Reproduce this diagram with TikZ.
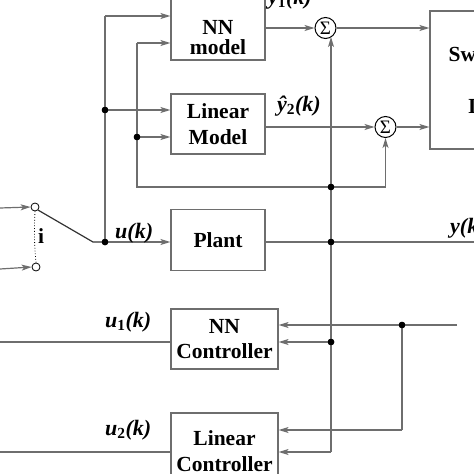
\documentclass[tikz,border=0pt]{standalone}
\usepackage{fontspec}
\setmainfont{Liberation Serif}
\usetikzlibrary{arrows.meta,calc}
\definecolor{lg}{RGB}{110,110,110}
\begin{document}
\begin{tikzpicture}[x=1pt,y=-1pt,
  bfnt/.style={font=\fontsize{21.5}{25}\selectfont\bfseries},
  blk/.style={draw=lg,line width=1.2pt,rectangle,inner sep=0pt,bfnt,align=center},
  arr/.style={draw=lg,line width=1.2pt,-{Stealth[length=10pt,width=6pt,inset=2.5pt]}},
  ln/.style={draw=lg,line width=1.2pt},
  sumc/.style={draw=black,circle,line width=1pt,minimum size=21pt,inner sep=0pt,font=\fontsize{19}{19}\selectfont},
  swc/.style={draw=black,circle,line width=0.8pt,minimum size=8pt,inner sep=0pt,fill=white},
  dot/.style={fill=black,circle,minimum size=6.5pt,inner sep=0pt},
  lab/.style={font=\fontsize{22}{25}\selectfont\bfseries\itshape,inner sep=0pt,anchor=base west}]
\useasboundingbox (0,0) rectangle (474,474);
\clip (0,0) rectangle (474,474);
% blocks
\node[blk,minimum width=94pt,minimum height=66pt] (nnm) at (218,27) {};
\node[bfnt,inner sep=0pt] (nnmt1) at (218,27) {NN};
\node[bfnt,inner sep=0pt] (nnmt2) at (218,47) {model};
\node[blk,minimum width=94pt,minimum height=60pt] (lm) at (218,124) {Linear\\[1pt]Model};
\node[blk,minimum width=94pt,minimum height=61pt] (plant) at (218,240) {Plant};
\node[blk,minimum width=107pt,minimum height=60pt] (nnc) at (224.5,339) {NN\\Controller};
\node[blk,minimum width=107pt,minimum height=76pt] (lc) at (224.5,451) {Linear\\[1pt]Controller};
\node[blk,minimum width=120pt,minimum height=138pt] (sl) at (490,80) {};
\node[bfnt,inner sep=0pt] (slt1) at (494,56) {Switching};
\node[bfnt,inner sep=0pt] (slt2) at (494,108) {Logic};
% sums
\node[sumc] (s1) at (325.5,28) {Σ};
\node[sumc] (s2) at (385.5,127) {Σ};
% switch
\node[swc] (c1) at (35,207) {};
\node[swc] (c2) at (36,267) {};
\coordinate (in1) at (0,208);
\coordinate (in2) at (0,269);
\coordinate (bl) at (93,242);
% junctions
\node[dot] (j1) at (105,242) {};
\node[dot] (j2) at (105,110) {};
\node[dot] (j3) at (137,137) {};
\node[dot] (j4) at (331,187) {};
\node[dot] (j5) at (331,242) {};
\node[dot] (j6) at (331,342) {};
\node[dot] (j7) at (402,325) {};
\coordinate (t1) at (105,16);
\coordinate (t2) at (137,43);
\coordinate (b1) at (137,187);
\coordinate (b2) at (385.5,187);
\coordinate (v1) at (331,452);
\coordinate (v1t) at (331,37);
\coordinate (r1) at (457,325);
\coordinate (r2) at (402,430);
\coordinate (yout) at (474,242);
\coordinate (o1) at (0,342);
\coordinate (o2) at (0,452);
% connectors
\draw[arr] (in1) -- (c1.west);
\draw[arr] (in2) -- (c2.west);
\draw[line width=0.8pt,dotted,black] (c1.south) to[bend right=4] (c2.north);
\draw[line width=1.2pt,black!80] (c1.south east) -- (bl) -- (j1.center);
\draw[arr] (j1.center) -- (j1 -| plant.west);
\draw[ln] (j1.center) -- (t1);
\draw[arr] (t1) -- (t1 -| nnm.west);
\draw[arr] (j2.center) -- (j2 -| lm.west);
\draw[arr] (t2) -- (t2 -| nnm.west);
\draw[ln] (t2) -- (b1) -- (b2);
\draw[arr] (b2) -- (s2.south);
\draw[arr] (j3.center) -- (j3 -| lm.west);
\draw[arr] (s1.west -| nnm.east) -- (s1.west);
\draw[arr] (s2.west -| lm.east) -- (s2.west);
\draw[arr] (s1.east) -- (s1.east -| sl.west);
\draw[arr] (s2.east) -- (s2.east -| sl.west);
\draw[ln] (j5 -| plant.east) -- (yout);
\draw[arr] (v1) -- (v1t);
\draw[arr] (v1) -- (v1 -| lc.east);
\draw[arr] (j6.center) -- (j6 -| nnc.east);
\draw[arr] (r1) -- (r1 -| nnc.east);
\draw[ln] (j7.center) -- (r2);
\draw[arr] (r2) -- (r2 -| lc.east);
\draw[ln] (nnc.west |- o1) -- (o1);
\draw[ln] (lc.west |- o2) -- (o2);
% redraw dots on top
\foreach \j in {j1,j2,j3,j4,j5,j6,j7} \node[dot] at (\j) {};
% labels
\node[lab] (lu) at (115,238) {u(k)};
\node[lab] (lu1) at (105,327) {u{\upshape\textsubscript{1}}(k)};
\node[lab] (lu2) at (105,435) {u{\upshape\textsubscript{2}}(k)};
\node[lab] (ly) at (450,233) {y(k)};
\node[lab] (ly2) at (277,111) {ŷ{\upshape\textsubscript{2}}(k)};
\node[lab] (ly1) at (268,4) {ŷ{\upshape\textsubscript{1}}(k)};
\node[bfnt,inner sep=0pt,anchor=base] (li) at (41,243) {i};
\end{tikzpicture}
\end{document}
